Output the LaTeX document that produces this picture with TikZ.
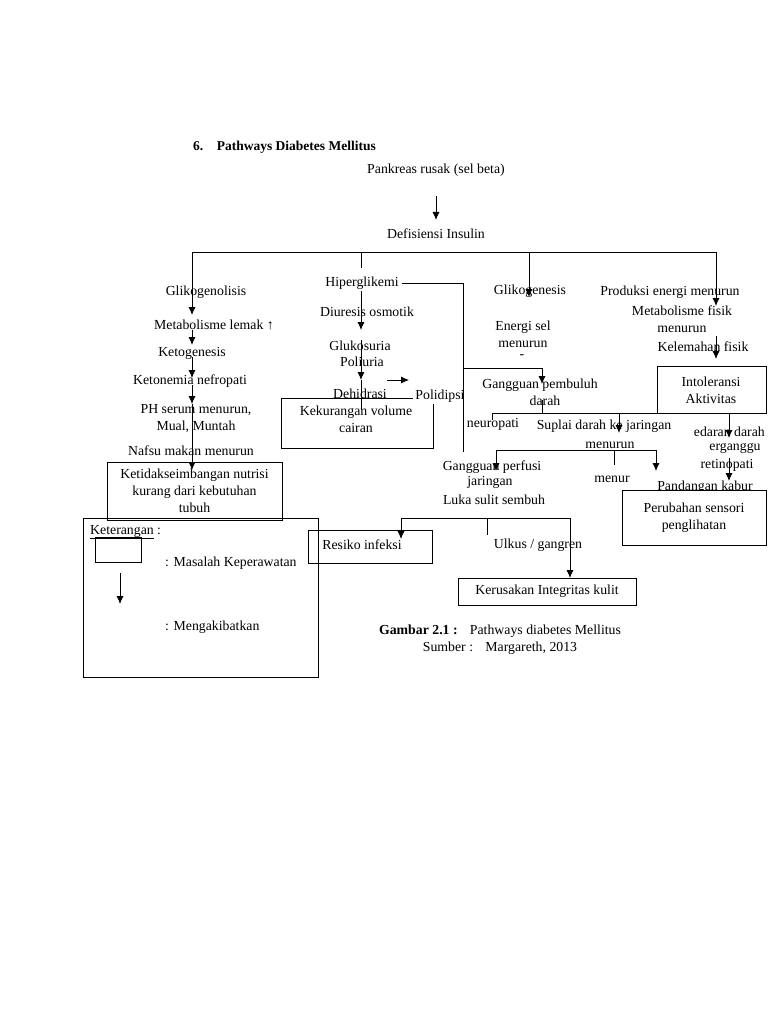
\documentclass[tikz,border=0pt]{standalone}
\usepackage{fontspec}
\setmainfont{Liberation Serif}
\usetikzlibrary{arrows.meta}
\begin{document}
\begin{tikzpicture}[x=1pt,y=-1pt,
  t/.style={inner sep=0pt,font=\fontsize{13.8}{17}\selectfont,align=center},
  bx/.style={draw,line width=0.8pt},
  ln/.style={line width=0.8pt},
  ar/.style={line width=0.8pt,-{Latex[length=8pt,width=7pt]}}]
\useasboundingbox[fill=white] (0,0) rectangle (768,1024);
% title
\node[t,anchor=west,font=\fontsize{13.5}{14}\selectfont\bfseries] (title) at (193,147) {6.\quad Pathways Diabetes Mellitus};
\node[t] (pank) at (436,170) {Pankreas rusak (sel beta)};
\coordinate (a1) at (436,196); \coordinate (a2) at (436,220);
\draw[ar] (a1) -- (a2);
\node[t] (def) at (436,234) {Defisiensi Insulin};
% top bus
\coordinate (bL) at (192,252); \coordinate (bR) at (716,252);
\coordinate (bM) at (529,252);
\draw[ln] (bL) -- (bR);
\draw[ln] (361,252) -- (361,268);
% left chain
\node[t] (glg) at (206,292) {Glikogenolisis};
\node[t] (met) at (214,325) {Metabolisme lemak ↑};
\node[t] (ket) at (192,353) {Ketogenesis};
\node[t] (ktn) at (190,381) {Ketonemia nefropati};
\node[t] (ph) at (196,419) {PH serum menurun,\\Mual, Muntah};
\node[t] (naf) at (191,451) {Nafsu makan menurun};
\node[bx,t,minimum width=175pt,minimum height=58pt] (nut) at (194.5,491) {Ketidakseimbangan nutrisi\\kurang dari kebutuhan\\tubuh};
\draw[ar] (bL) -- (192,315);
\draw[ar] (192,330) -- (192,345);
\draw[ar] (192,357) -- (192,378);
\draw[ar] (192,385) -- (192,404);
\draw[ln] (192,404) -- (192,462);
\draw[ar] (192,440) -- (192,470);
% middle chain
\node[t] (hip) at (362,283) {Hiperglikemi};
\node[t] (diu) at (367,312) {Diuresis osmotik};
\node[t] (glu) at (360,346) {Glukosuria};
\node[t,fill=white,inner sep=1pt] (pol) at (362,362) {Poliuria};
\node[t] (deh) at (360,394) {Dehidrasi};
\draw[bx,fill=white] (281,398) rectangle (433,448);
\node[t] (kek) at (356,419) {Kekurangan volume\\cairan};
\node[t,fill=white,inner sep=2pt] (pld) at (440,396) {Polidipsi};
\draw[ar] (361,291) -- (361,330);
\draw[ar] (361,340) -- (361,380);
\draw[ln] (361,380) -- (361,410);
\draw[ar] (387,380) -- (409,380);
\coordinate (h1) at (463,283); \coordinate (h2) at (463,452);
\draw[ln] (hip.east) ++(3,0) -- (h1) -- (h2);
% glikogenesis column
\node[t] (glk) at (530,291) {Glikogenesis};
\draw[ar] (bM) -- (529,297);
\node[t] (ene) at (523,334) {Energi sel\\menurun};
\node[t] at (522,357) {-};
\draw[ln] (463,368) -- (542,368);
\draw[ar] (542,368) -- (542,384);
\node[t] (gpd) at (540,392) {Gangguan pembuluh\\\hspace*{10pt}darah};
\coordinate (s1) at (492,413); \coordinate (s2) at (730,413);
\draw[ln] (542,400) -- (542,413);
\draw[ln] (s1) -- (s2);
\draw[ln] (s1) -- (492,420);
\node[t] (neu) at (493,424) {neuropati};
\draw[ar] (619,413) -- (619,433);
\draw[ar] (729,413) -- (729,438);
\node[t] (sup) at (604,426) {Suplai darah ke jaringan};
\node[t] (men) at (610,445) {menurun};
\node[t,anchor=east] (per) at (765,432) {edaran darah};
\node[t] (ter) at (735,448) {erganggu};
\node[t] (ret) at (727,465) {retinopati};
\draw[ar] (729,458) -- (729,481);
\node[t] (pan) at (705,487) {Pandangan kabur};
\draw[bx,fill=white] (622,490) rectangle (766,545);
\node[t] (sen) at (694,518) {Perubahan sensori\\penglihatan};
% perfusi
\draw[ln] (496,450) -- (656,450);
\draw[ar] (496,450) -- (496,471);
\draw[ar] (656,450) -- (656,471);
\draw[ln] (614,450) -- (614,465);
\node[t] (mnr) at (612,479) {menur};
\node[t] (gpf) at (492,467) {Gangguan perfusi};
\node[t] (jar) at (490,482) {jaringan};
\node[t] (luk) at (494,500) {Luka sulit sembuh};
\draw[ln] (401,518) -- (570,518);
\draw[ln] (487,518) -- (487,535);
\draw[bx] (308,530) rectangle (432,563);
\node[t] (res) at (362,545) {Resiko infeksi};
\draw[ar] (401,518) -- (401,539);
\node[t] (ulk) at (538,545) {Ulkus / gangren};
\draw[bx] (458,578) rectangle (636,605);
\node[t] (ker) at (547,591) {Kerusakan Integritas kulit};
\draw[ar] (570,518) -- (570,578);
\node[t] (cap) at (500,640) {\textbf{Gambar 2.1 :}\;\; Pathways diabetes Mellitus\\Sumber :\;\; Margareth, 2013};
% right column
\node[t] (pro) at (670,292) {Produksi energi menurun};
\node[t] (mfs) at (682,319) {Metabolisme fisik\\menurun};
\draw[ar] (bR) -- (716,306);
\draw[ar] (716,336) -- (716,359);
\node[t] (kel) at (703,347) {Kelemahan fisik};
\draw[bx] (657,366) rectangle (766,413);
\node[t] (int) at (711,390) {Intoleransi\\Aktivitas};
% legend
\draw[bx] (83,518) rectangle (318,677);
\node[t,anchor=west] (keter) at (90,532) {\underline{Keterangan} :};
\draw[bx] (95,537) rectangle (141,562);
\node[t,anchor=west] (lg1) at (165,563) {: Masalah Keperawatan};
\coordinate (l1) at (120,573); \coordinate (l2) at (120,604);
\draw[ar] (l1) -- (l2);
\node[t,anchor=west] (lg2) at (165,627) {: Mengakibatkan};
\end{tikzpicture}
\end{document}
